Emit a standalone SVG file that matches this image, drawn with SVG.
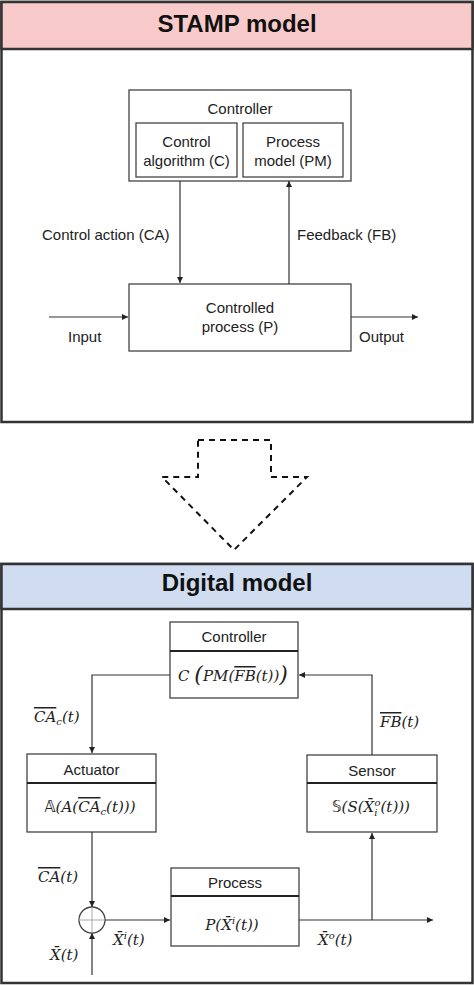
<svg xmlns="http://www.w3.org/2000/svg" width="474" height="985" viewBox="0 0 474 985">
<style>
.frame{fill:#fff;stroke:#333;stroke-width:2.5}
.hdr1{fill:#f9caca;stroke:#333;stroke-width:2.5}
.hdr2{fill:#d0dcef;stroke:#333;stroke-width:2.5}
.title{font-family:"Liberation Sans",Arial,sans-serif;font-weight:bold;font-size:24px;fill:#111;text-anchor:middle}
.box{fill:#fff;stroke:#444;stroke-width:1.3}
.div{stroke:#222;stroke-width:2}
.t{font-family:"Liberation Sans",Arial,sans-serif;font-size:15px;fill:#222}
.c{text-anchor:middle}
.m{font-family:"DejaVu Serif","Liberation Serif",serif;font-style:italic;font-size:15px;fill:#222}
.ds{font-family:"DejaVu Sans",sans-serif;font-style:normal}
.ov{text-decoration:overline}
.line{fill:none;stroke:#333;stroke-width:1.2}
.dash{fill:none;stroke:#111;stroke-width:2;stroke-dasharray:6 5}
</style>
<defs>
<marker id="ah" viewBox="0 0 8 8" refX="8" refY="4" markerWidth="6" markerHeight="6" markerUnits="userSpaceOnUse" orient="auto">
<path d="M0,0 L8,4 L0,8 z" fill="#222"/>
</marker>
</defs>

<!-- STAMP frame -->
<g id="stamp-frame">
<rect class="frame" x="1.5" y="2" width="471" height="420"/>
<rect class="hdr1" x="1.5" y="2" width="471" height="47"/>
<text class="title" x="237" y="32">STAMP model</text>
</g>

<g id="stamp-controller">
<rect class="box" x="129" y="90" width="222" height="91"/>
<text class="t c" x="240" y="114">Controller</text>
</g>
<g id="stamp-algorithm">
<rect class="box" x="136" y="123" width="101" height="54"/>
<text class="t c" x="186.5" y="147" font-size="14">Control</text>
<text class="t c" x="186.5" y="166" font-size="14">algorithm (C)</text>
</g>
<g id="stamp-pm">
<rect class="box" x="243" y="123" width="100" height="54"/>
<text class="t c" x="293" y="147" font-size="14">Process</text>
<text class="t c" x="293" y="166" font-size="14">model (PM)</text>
</g>
<g id="stamp-process">
<rect class="box" x="129" y="284" width="222" height="67"/>
<text class="t c" x="240" y="313">Controlled</text>
<text class="t c" x="240" y="332">process (P)</text>
</g>

<g id="stamp-connectors">
<line class="line" x1="180" y1="181" x2="180" y2="283" marker-end="url(#ah)"/>
<line class="line" x1="289" y1="284" x2="289" y2="181" marker-end="url(#ah)"/>
<line class="line" x1="49" y1="317" x2="128" y2="317" marker-end="url(#ah)"/>
<line class="line" x1="351" y1="317" x2="418" y2="317" marker-end="url(#ah)"/>
</g>
<g id="stamp-labels">
<text class="t" x="42" y="240">Control action (CA)</text>
<text class="t" x="297" y="240">Feedback (FB)</text>
<text class="t" x="68" y="342">Input</text>
<text class="t" x="359" y="342">Output</text>
</g>

<!-- transition arrow -->
<g id="transition">
<path class="dash" d="M198,440 H271 V477 H307 L234,550 L162,477 H198 Z"/>
</g>

<!-- Digital frame -->
<g id="digital-frame">
<rect class="frame" x="1.5" y="564" width="471" height="419"/>
<rect class="hdr2" x="1.5" y="564" width="471" height="45"/>
<text class="title" x="237" y="591">Digital model</text>
</g>

<g id="dm-controller">
<rect class="box" x="170" y="622" width="128" height="76"/>
<line class="div" x1="170" y1="651" x2="298" y2="651"/>
<text class="t c" x="234" y="642">Controller</text>
<text class="m c" x="233" y="681">C <tspan font-size="22" dy="1">(</tspan><tspan dy="-1">PM(</tspan><tspan class="ov">FB</tspan>(t))<tspan font-size="22" dy="1">)</tspan></text>
</g>

<g id="dm-actuator">
<rect class="box" x="27" y="754" width="129" height="78"/>
<line class="div" x1="27" y1="783" x2="156" y2="783"/>
<text class="t c" x="91.5" y="775">Actuator</text>
<text class="m c" x="90" y="812"><tspan class="ds">𝔸</tspan>(A(<tspan class="ov">CA</tspan><tspan font-size="10" dy="3">c</tspan><tspan dy="-3">(t)))</tspan></text>
</g>

<g id="dm-sensor">
<rect class="box" x="307" y="755" width="130" height="77"/>
<line class="div" x1="307" y1="783" x2="437" y2="783"/>
<text class="t c" x="372" y="776">Sensor</text>
<text class="m c" x="371" y="812"><tspan class="ds">𝕊</tspan>(S(X̄<tspan font-size="10" dy="4">i</tspan><tspan font-size="10" dx="-3" dy="-10">o</tspan><tspan dy="6">(t)))</tspan></text>
</g>

<g id="dm-process">
<rect class="box" x="171" y="868" width="128" height="78"/>
<line class="div" x1="171" y1="896" x2="299" y2="896"/>
<text class="t c" x="235" y="888">Process</text>
<text class="m c" x="232" y="930">P(X̄<tspan font-size="10" dy="-6">i</tspan><tspan dy="6">(t))</tspan></text>
</g>

<g id="dm-sum">
<circle cx="92" cy="920" r="13" fill="#fff" stroke="#444" stroke-width="1.3"/>
<line x1="79" y1="920" x2="105" y2="920" stroke="#aaa" stroke-width="1"/>
<line x1="92" y1="907" x2="92" y2="933" stroke="#aaa" stroke-width="1"/>
</g>

<g id="dm-connectors">
<path class="line" d="M170,675 H92 V753" marker-end="url(#ah)"/>
<path class="line" d="M372,755 V675 H299" marker-end="url(#ah)"/>
<path class="line" d="M92,832 V907" marker-end="url(#ah)"/>
<path class="line" d="M92,975 V933" marker-end="url(#ah)"/>
<path class="line" d="M105,920 H170" marker-end="url(#ah)"/>
<path class="line" d="M299,920 H433" marker-end="url(#ah)"/>
<path class="line" d="M372,920 V833" marker-end="url(#ah)"/>
</g>

<g id="dm-labels">
<text class="m" x="34" y="722"><tspan class="ov">CA</tspan><tspan font-size="10" dy="3">c</tspan><tspan dy="-3">(t)</tspan></text>
<text class="m" x="380" y="727"><tspan class="ov">FB</tspan>(t)</text>
<text class="m" x="38" y="882"><tspan class="ov">CA</tspan>(t)</text>
<text class="m" x="50" y="960">X̄(t)</text>
<text class="m" x="113" y="945">X̄<tspan font-size="10" dy="-6">i</tspan><tspan dy="6">(t)</tspan></text>
<text class="m" x="318" y="945">X̄<tspan font-size="10" dy="-6">o</tspan><tspan dy="6">(t)</tspan></text>
</g>
</svg>
